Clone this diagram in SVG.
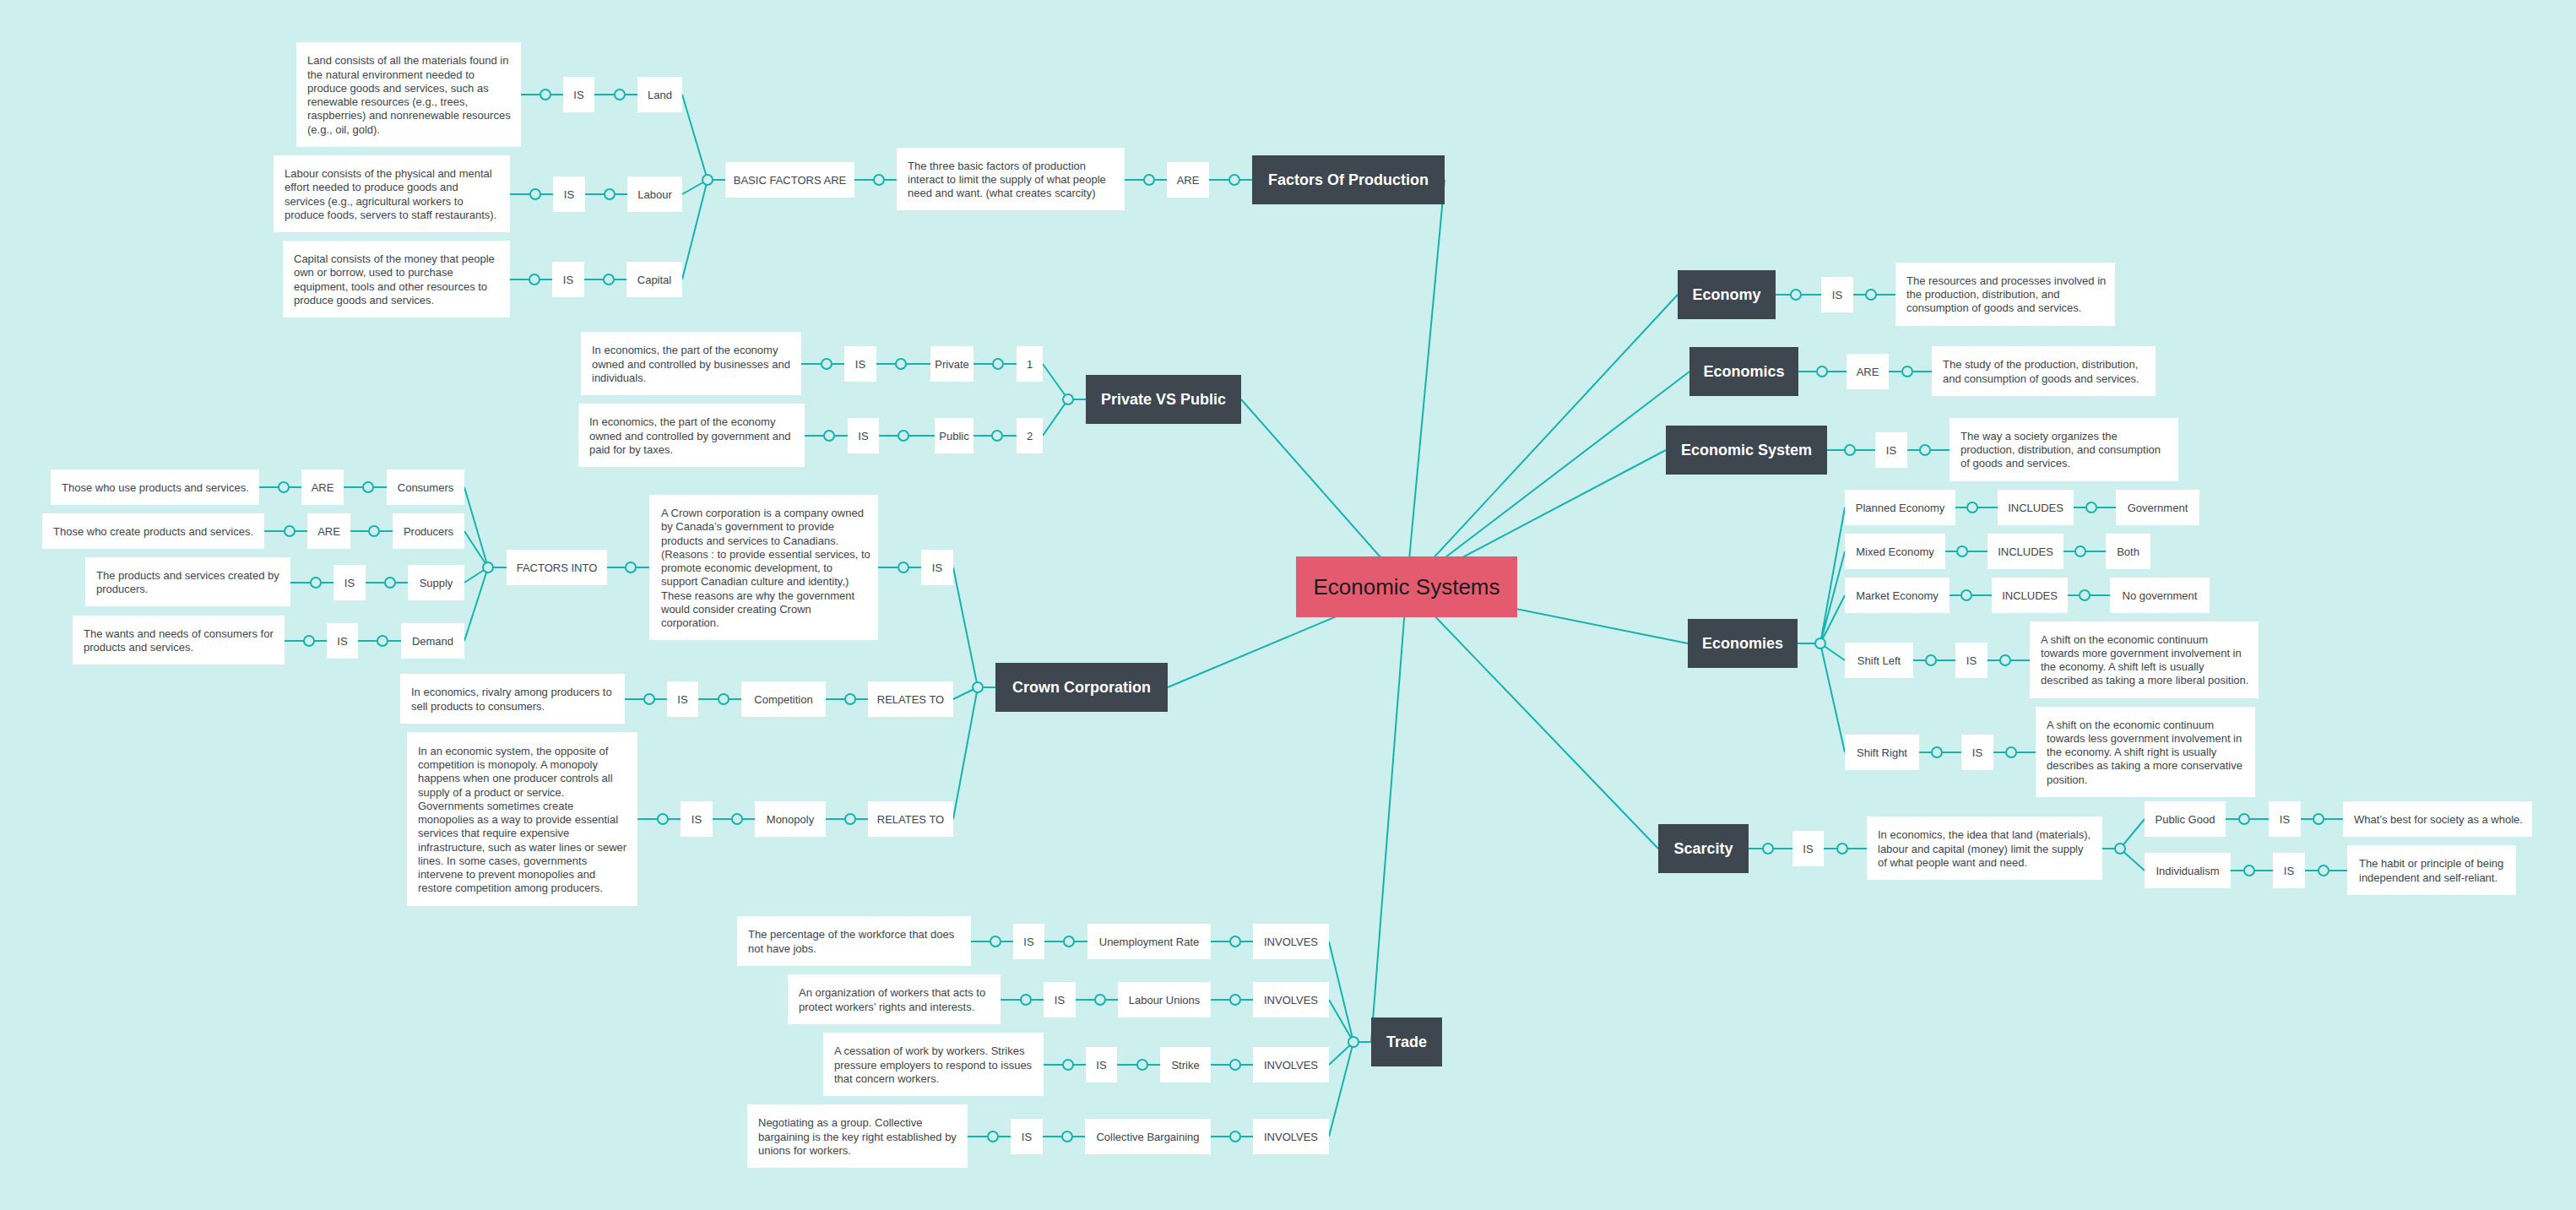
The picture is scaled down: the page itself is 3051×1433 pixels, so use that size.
<svg xmlns="http://www.w3.org/2000/svg" width="3051" height="1433" viewBox="0 0 3051 1433">
<style>
.bg{fill:#cdf0ef}
.w{fill:#ffffff}
.d{fill:#3e464f}
.lb{font-family:"Liberation Sans",Arial,sans-serif;font-size:13px;fill:#40454b;text-anchor:middle;dominant-baseline:central}
.ds{font-family:"Liberation Sans",Arial,sans-serif;font-size:13px;fill:#40454b;dominant-baseline:central}
.h{font-family:"Liberation Sans",Arial,sans-serif;font-size:18px;font-weight:bold;fill:#ffffff;text-anchor:middle;dominant-baseline:central}
.ct{font-family:"Liberation Sans",Arial,sans-serif;font-size:26px;fill:#1c1c1c;text-anchor:middle;dominant-baseline:central}
.l{stroke:#17b2ad;stroke-width:2;fill:none}
.c{fill:#cdf0ef;stroke:#17b2ad;stroke-width:2}
</style>
<rect class="bg" x="0" y="0" width="3051" height="1433"/>

<g id="connectors">
<path class="l" d="M1666 695L1711 213M1666 695L1470 473M1666 695L1383 814M1666 695L1624 1234M1666 695L1987 349M1666 695L2001 440M1666 695L1973 533M1666 695L1999 762M1666 695L1964 1005"/>
<path class="l" d="M1432 213H1483M1332 213H1382M1012 213H1062M838 213H859M838 213L808 112M838 213L808 230M838 213L808 331M704 112H755M617 112H667M693 230H743M604 230H655M692 331H742M604 331H654"/>
<path class="l" d="M1265 473H1286M1265 473L1235 431M1265 473L1235 516M1153 431H1204M1038 431H1102M949 431H1000M1153 516H1204M1041 516H1107M953 516H1004"/>
<path class="l" d="M1158 814H1179M1158 814L1129 672M1158 814L1129 828M1158 814L1129 970M1040 672H1091M719 672H769M578 672H600M578 672L550 577M578 672L550 629M578 672L550 690M578 672L550 759M407 577H458M307 577H357M415 629H465M313 629H364M433 690H483M344 690H395M424 759H475M337 759H387M978 828H1028M827 828H878M740 828H790M978 970H1028M844 970H894M755 970H806"/>
<path class="l" d="M1603 1234H1624M1603 1234L1574 1115M1603 1234L1574 1184M1603 1234L1574 1261M1603 1234L1574 1346M1434 1115H1484M1237 1115H1288M1150 1115H1200M1434 1184H1484M1274 1184H1324M1185 1184H1236M1434 1261H1484M1323 1261H1374M1236 1261H1286M1434 1346H1484M1235 1346H1285M1146 1346H1197"/>
<path class="l" d="M2103 349H2157M2195 349H2245M2130 440H2187M2237 440H2288M2164 533H2221M2259 533H2309M2129 762H2156M2156 762L2185 601M2156 762L2185 653M2156 762L2185 705M2156 762L2185 782M2156 762L2185 891M2316 601H2366M2456 601H2506M2304 653H2354M2444 653H2494M2309 705H2359M2449 705H2499M2266 782H2316M2354 782H2404M2273 891H2323M2361 891H2411M2071 1005H2123M2160 1005H2211M2490 1005H2511M2511 1005L2540 970M2511 1005L2540 1031M2636 970H2687M2725 970H2775M2642 1031H2692M2730 1031H2780"/>
<g>
<circle class="c" cx="1462" cy="213" r="6"/><circle class="c" cx="1361" cy="213" r="6"/><circle class="c" cx="1041" cy="213" r="6"/><circle class="c" cx="838" cy="213" r="6"/>
<circle class="c" cx="734" cy="112" r="6"/><circle class="c" cx="646" cy="112" r="6"/><circle class="c" cx="722" cy="230" r="6"/><circle class="c" cx="634" cy="230" r="6"/><circle class="c" cx="721" cy="331" r="6"/><circle class="c" cx="633" cy="331" r="6"/>
<circle class="c" cx="1265" cy="473" r="6"/><circle class="c" cx="1182" cy="431" r="6"/><circle class="c" cx="1067" cy="431" r="6"/><circle class="c" cx="979" cy="431" r="6"/><circle class="c" cx="1181" cy="516" r="6"/><circle class="c" cx="1070" cy="516" r="6"/><circle class="c" cx="982" cy="516" r="6"/>
<circle class="c" cx="1158" cy="814" r="6"/><circle class="c" cx="1070" cy="672" r="6"/><circle class="c" cx="747" cy="672" r="6"/><circle class="c" cx="578" cy="672" r="6"/>
<circle class="c" cx="436" cy="577" r="6"/><circle class="c" cx="336" cy="577" r="6"/><circle class="c" cx="443" cy="629" r="6"/><circle class="c" cx="343" cy="629" r="6"/><circle class="c" cx="462" cy="690" r="6"/><circle class="c" cx="374" cy="690" r="6"/><circle class="c" cx="453" cy="759" r="6"/><circle class="c" cx="366" cy="759" r="6"/>
<circle class="c" cx="1007" cy="828" r="6"/><circle class="c" cx="857" cy="828" r="6"/><circle class="c" cx="769" cy="828" r="6"/><circle class="c" cx="1007" cy="970" r="6"/><circle class="c" cx="873" cy="970" r="6"/><circle class="c" cx="785" cy="970" r="6"/>
<circle class="c" cx="1603" cy="1234" r="6"/><circle class="c" cx="1463" cy="1115" r="6"/><circle class="c" cx="1266" cy="1115" r="6"/><circle class="c" cx="1179" cy="1115" r="6"/><circle class="c" cx="1463" cy="1184" r="6"/><circle class="c" cx="1303" cy="1184" r="6"/><circle class="c" cx="1215" cy="1184" r="6"/><circle class="c" cx="1463" cy="1261" r="6"/><circle class="c" cx="1353" cy="1261" r="6"/><circle class="c" cx="1265" cy="1261" r="6"/><circle class="c" cx="1463" cy="1346" r="6"/><circle class="c" cx="1264" cy="1346" r="6"/><circle class="c" cx="1176" cy="1346" r="6"/>
<circle class="c" cx="2127" cy="349" r="6"/><circle class="c" cx="2216" cy="349" r="6"/><circle class="c" cx="2158" cy="440" r="6"/><circle class="c" cx="2259" cy="440" r="6"/><circle class="c" cx="2191" cy="533" r="6"/><circle class="c" cx="2280" cy="533" r="6"/>
<circle class="c" cx="2156" cy="762" r="6"/><circle class="c" cx="2336" cy="601" r="6"/><circle class="c" cx="2477" cy="601" r="6"/><circle class="c" cx="2324" cy="653" r="6"/><circle class="c" cx="2464" cy="653" r="6"/><circle class="c" cx="2329" cy="705" r="6"/><circle class="c" cx="2469" cy="705" r="6"/><circle class="c" cx="2287" cy="782" r="6"/><circle class="c" cx="2375" cy="782" r="6"/><circle class="c" cx="2294" cy="891" r="6"/><circle class="c" cx="2382" cy="891" r="6"/>
<circle class="c" cx="2094" cy="1005" r="6"/><circle class="c" cx="2182" cy="1005" r="6"/><circle class="c" cx="2511" cy="1005" r="6"/><circle class="c" cx="2658" cy="970" r="6"/><circle class="c" cx="2746" cy="970" r="6"/><circle class="c" cx="2664" cy="1031" r="6"/><circle class="c" cx="2752" cy="1031" r="6"/>
</g>
</g>

<g id="center"><rect x="1535" y="659" width="262" height="72" fill="#e45b70"/><text class="ct" x="1666" y="695">Economic Systems</text></g>

<g id="factors-of-production"><rect class="d" x="1483" y="184" width="228" height="58"/><text class="h" x="1597" y="213">Factors Of Production</text></g>
<g id="fop-are"><rect class="w" x="1382" y="192" width="50" height="42"/><text class="lb" x="1407" y="213">ARE</text></g>
<g id="fop-desc"><rect class="w" x="1062" y="175" width="270" height="74"/><text class="ds" x="1075" y="195.8"><tspan x="1075">The three basic factors of production</tspan><tspan x="1075" dy="16.25">interact to limit the supply of what people</tspan><tspan x="1075" dy="16.25">need and want. (what creates scarcity)</tspan></text></g>
<g id="basic-factors"><rect class="w" x="859" y="192" width="153" height="42"/><text class="lb" x="935.5" y="213">BASIC FACTORS ARE</text></g>
<g id="land"><rect class="w" x="755" y="91" width="53" height="42"/><text class="lb" x="781.5" y="112">Land</text></g>
<g id="land-is"><rect class="w" x="667" y="91" width="37" height="42"/><text class="lb" x="685.5" y="112">IS</text></g>
<g id="land-desc"><rect class="w" x="351" y="50" width="266" height="124"/><text class="ds" x="364" y="71.4"><tspan x="364">Land consists of all the materials found in</tspan><tspan x="364" dy="16.25">the natural environment needed to</tspan><tspan x="364" dy="16.25">produce goods and services, such as</tspan><tspan x="364" dy="16.25">renewable resources (e.g., trees,</tspan><tspan x="364" dy="16.25">raspberries) and nonrenewable resources</tspan><tspan x="364" dy="16.25">(e.g., oil, gold).</tspan></text></g>
<g id="labour"><rect class="w" x="743" y="209" width="65" height="42"/><text class="lb" x="775.5" y="230">Labour</text></g>
<g id="labour-is"><rect class="w" x="655" y="209" width="38" height="42"/><text class="lb" x="674" y="230">IS</text></g>
<g id="labour-desc"><rect class="w" x="324" y="184" width="280" height="91"/><text class="ds" x="337" y="205.1"><tspan x="337">Labour consists of the physical and mental</tspan><tspan x="337" dy="16.25">effort needed to produce goods and</tspan><tspan x="337" dy="16.25">services (e.g., agricultural workers to</tspan><tspan x="337" dy="16.25">produce foods, servers to staff restaurants).</tspan></text></g>
<g id="capital"><rect class="w" x="742" y="310" width="66" height="42"/><text class="lb" x="775" y="331">Capital</text></g>
<g id="capital-is"><rect class="w" x="654" y="310" width="38" height="42"/><text class="lb" x="673" y="331">IS</text></g>
<g id="capital-desc"><rect class="w" x="335" y="285" width="269" height="91"/><text class="ds" x="348" y="306.1"><tspan x="348">Capital consists of the money that people</tspan><tspan x="348" dy="16.25">own or borrow, used to purchase</tspan><tspan x="348" dy="16.25">equipment, tools and other resources to</tspan><tspan x="348" dy="16.25">produce goods and services.</tspan></text></g>

<g id="private-vs-public"><rect class="d" x="1286" y="444" width="184" height="58"/><text class="h" x="1378" y="473">Private VS Public</text></g>
<g id="n1"><rect class="w" x="1204" y="410" width="31" height="42"/><text class="lb" x="1219.5" y="431">1</text></g>
<g id="private"><rect class="w" x="1102" y="410" width="51" height="42"/><text class="lb" x="1127.5" y="431">Private</text></g>
<g id="private-is"><rect class="w" x="1000" y="410" width="38" height="42"/><text class="lb" x="1019" y="431">IS</text></g>
<g id="private-desc"><rect class="w" x="688" y="393" width="261" height="75"/><text class="ds" x="701" y="414.3"><tspan x="701">In economics, the part of the economy</tspan><tspan x="701" dy="16.25">owned and controlled by businesses and</tspan><tspan x="701" dy="16.25">individuals.</tspan></text></g>
<g id="n2"><rect class="w" x="1204" y="495" width="31" height="42"/><text class="lb" x="1219.5" y="516">2</text></g>
<g id="public"><rect class="w" x="1107" y="495" width="46" height="42"/><text class="lb" x="1130" y="516">Public</text></g>
<g id="public-is"><rect class="w" x="1004" y="495" width="37" height="42"/><text class="lb" x="1022.5" y="516">IS</text></g>
<g id="public-desc"><rect class="w" x="685" y="478" width="268" height="75"/><text class="ds" x="698" y="499.3"><tspan x="698">In economics, the part of the economy</tspan><tspan x="698" dy="16.25">owned and controlled by government and</tspan><tspan x="698" dy="16.25">paid for by taxes.</tspan></text></g>

<g id="crown-corporation"><rect class="d" x="1179" y="785" width="204" height="58"/><text class="h" x="1281" y="814">Crown Corporation</text></g>
<g id="crown-is"><rect class="w" x="1091" y="651" width="38" height="42"/><text class="lb" x="1110" y="672">IS</text></g>
<g id="crown-desc"><rect class="w" x="769" y="586" width="271" height="172"/><text class="ds" x="783" y="607"><tspan x="783">A Crown corporation is a company owned</tspan><tspan x="783" dy="16.25">by Canada’s government to provide</tspan><tspan x="783" dy="16.25">products and services to Canadians.</tspan><tspan x="783" dy="16.25">(Reasons : to provide essential services, to</tspan><tspan x="783" dy="16.25">promote economic development, to</tspan><tspan x="783" dy="16.25">support Canadian culture and identity,)</tspan><tspan x="783" dy="16.25">These reasons are why the government</tspan><tspan x="783" dy="16.25">would consider creating Crown</tspan><tspan x="783" dy="16.25">corporation.</tspan></text></g>
<g id="factors-into"><rect class="w" x="600" y="651" width="119" height="42"/><text class="lb" x="659.5" y="672">FACTORS INTO</text></g>
<g id="consumers"><rect class="w" x="458" y="556" width="92" height="42"/><text class="lb" x="504" y="577">Consumers</text></g>
<g id="consumers-are"><rect class="w" x="357" y="556" width="50" height="42"/><text class="lb" x="382" y="577">ARE</text></g>
<g id="consumers-desc"><rect class="w" x="60" y="556" width="247" height="42"/><text class="ds" x="73" y="577">Those who use products and services.</text></g>
<g id="producers"><rect class="w" x="465" y="608" width="85" height="42"/><text class="lb" x="507.5" y="629">Producers</text></g>
<g id="producers-are"><rect class="w" x="364" y="608" width="51" height="42"/><text class="lb" x="389.5" y="629">ARE</text></g>
<g id="producers-desc"><rect class="w" x="50" y="608" width="263" height="42"/><text class="ds" x="63" y="629">Those who create products and services.</text></g>
<g id="supply"><rect class="w" x="483" y="669" width="67" height="42"/><text class="lb" x="516.5" y="690">Supply</text></g>
<g id="supply-is"><rect class="w" x="395" y="669" width="38" height="42"/><text class="lb" x="414" y="690">IS</text></g>
<g id="supply-desc"><rect class="w" x="101" y="660" width="243" height="58"/><text class="ds" x="114" y="680.9"><tspan x="114">The products and services created by</tspan><tspan x="114" dy="16.25">producers.</tspan></text></g>
<g id="demand"><rect class="w" x="475" y="738" width="75" height="42"/><text class="lb" x="512.5" y="759">Demand</text></g>
<g id="demand-is"><rect class="w" x="387" y="738" width="37" height="42"/><text class="lb" x="405.5" y="759">IS</text></g>
<g id="demand-desc"><rect class="w" x="86" y="729" width="251" height="58"/><text class="ds" x="99" y="749.9"><tspan x="99">The wants and needs of consumers for</tspan><tspan x="99" dy="16.25">products and services.</tspan></text></g>
<g id="relates-to-1"><rect class="w" x="1028" y="807" width="101" height="42"/><text class="lb" x="1078.5" y="828">RELATES TO</text></g>
<g id="competition"><rect class="w" x="878" y="807" width="100" height="42"/><text class="lb" x="928" y="828">Competition</text></g>
<g id="competition-is"><rect class="w" x="790" y="807" width="37" height="42"/><text class="lb" x="808.5" y="828">IS</text></g>
<g id="competition-desc"><rect class="w" x="474" y="798" width="266" height="59"/><text class="ds" x="487" y="819.4"><tspan x="487">In economics, rivalry among producers to</tspan><tspan x="487" dy="16.25">sell products to consumers.</tspan></text></g>
<g id="relates-to-2"><rect class="w" x="1028" y="949" width="101" height="42"/><text class="lb" x="1078.5" y="970">RELATES TO</text></g>
<g id="monopoly"><rect class="w" x="894" y="949" width="84" height="42"/><text class="lb" x="936" y="970">Monopoly</text></g>
<g id="monopoly-is"><rect class="w" x="806" y="949" width="38" height="42"/><text class="lb" x="825" y="970">IS</text></g>
<g id="monopoly-desc"><rect class="w" x="482" y="867" width="273" height="206"/><text class="ds" x="495" y="888.8"><tspan x="495">In an economic system, the opposite of</tspan><tspan x="495" dy="16.25">competition is monopoly. A monopoly</tspan><tspan x="495" dy="16.25">happens when one producer controls all</tspan><tspan x="495" dy="16.25">supply of a product or service.</tspan><tspan x="495" dy="16.25">Governments sometimes create</tspan><tspan x="495" dy="16.25">monopolies as a way to provide essential</tspan><tspan x="495" dy="16.25">services that require expensive</tspan><tspan x="495" dy="16.25">infrastructure, such as water lines or sewer</tspan><tspan x="495" dy="16.25">lines. In some cases, governments</tspan><tspan x="495" dy="16.25">intervene to prevent monopolies and</tspan><tspan x="495" dy="16.25">restore competition among producers.</tspan></text></g>

<g id="trade"><rect class="d" x="1624" y="1205" width="84" height="58"/><text class="h" x="1666" y="1234">Trade</text></g>
<g id="involves-1"><rect class="w" x="1484" y="1094" width="90" height="42"/><text class="lb" x="1529" y="1115">INVOLVES</text></g>
<g id="unemployment"><rect class="w" x="1288" y="1094" width="146" height="42"/><text class="lb" x="1361" y="1115">Unemployment Rate</text></g>
<g id="unemployment-is"><rect class="w" x="1200" y="1094" width="37" height="42"/><text class="lb" x="1218.5" y="1115">IS</text></g>
<g id="unemployment-desc"><rect class="w" x="873" y="1085" width="277" height="59"/><text class="ds" x="886" y="1106.4"><tspan x="886">The percentage of the workforce that does</tspan><tspan x="886" dy="16.25">not have jobs.</tspan></text></g>
<g id="involves-2"><rect class="w" x="1484" y="1163" width="90" height="42"/><text class="lb" x="1529" y="1184">INVOLVES</text></g>
<g id="labour-unions"><rect class="w" x="1324" y="1163" width="110" height="42"/><text class="lb" x="1379" y="1184">Labour Unions</text></g>
<g id="unions-is"><rect class="w" x="1236" y="1163" width="38" height="42"/><text class="lb" x="1255" y="1184">IS</text></g>
<g id="unions-desc"><rect class="w" x="933" y="1154" width="252" height="59"/><text class="ds" x="946" y="1175.4"><tspan x="946">An organization of workers that acts to</tspan><tspan x="946" dy="16.25">protect workers’ rights and interests.</tspan></text></g>
<g id="involves-3"><rect class="w" x="1484" y="1240" width="90" height="42"/><text class="lb" x="1529" y="1261">INVOLVES</text></g>
<g id="strike"><rect class="w" x="1374" y="1240" width="60" height="42"/><text class="lb" x="1404" y="1261">Strike</text></g>
<g id="strike-is"><rect class="w" x="1286" y="1240" width="37" height="42"/><text class="lb" x="1304.5" y="1261">IS</text></g>
<g id="strike-desc"><rect class="w" x="975" y="1223" width="261" height="75"/><text class="ds" x="988" y="1244.3"><tspan x="988">A cessation of work by workers. Strikes</tspan><tspan x="988" dy="16.25">pressure employers to respond to issues</tspan><tspan x="988" dy="16.25">that concern workers.</tspan></text></g>
<g id="involves-4"><rect class="w" x="1484" y="1325" width="90" height="42"/><text class="lb" x="1529" y="1346">INVOLVES</text></g>
<g id="collective-bargaining"><rect class="w" x="1285" y="1325" width="149" height="42"/><text class="lb" x="1359.5" y="1346">Collective Bargaining</text></g>
<g id="collective-is"><rect class="w" x="1197" y="1325" width="38" height="42"/><text class="lb" x="1216" y="1346">IS</text></g>
<g id="collective-desc"><rect class="w" x="885" y="1308" width="261" height="75"/><text class="ds" x="898" y="1329.3"><tspan x="898">Negotiating as a group. Collective</tspan><tspan x="898" dy="16.25">bargaining is the key right established by</tspan><tspan x="898" dy="16.25">unions for workers.</tspan></text></g>

<g id="economy"><rect class="d" x="1987" y="320" width="116" height="58"/><text class="h" x="2045" y="349">Economy</text></g>
<g id="economy-is"><rect class="w" x="2157" y="328" width="38" height="42"/><text class="lb" x="2176" y="349">IS</text></g>
<g id="economy-desc"><rect class="w" x="2245" y="311" width="260" height="75"/><text class="ds" x="2258" y="331.8"><tspan x="2258">The resources and processes involved in</tspan><tspan x="2258" dy="16.25">the production, distribution, and</tspan><tspan x="2258" dy="16.25">consumption of goods and services.</tspan></text></g>
<g id="economics"><rect class="d" x="2001" y="411" width="129" height="58"/><text class="h" x="2065.5" y="440">Economics</text></g>
<g id="economics-are"><rect class="w" x="2187" y="419" width="50" height="42"/><text class="lb" x="2212" y="440">ARE</text></g>
<g id="economics-desc"><rect class="w" x="2288" y="410" width="265" height="59"/><text class="ds" x="2301" y="431.4"><tspan x="2301">The study of the production, distribution,</tspan><tspan x="2301" dy="16.25">and consumption of goods and services.</tspan></text></g>
<g id="economic-system"><rect class="d" x="1973" y="504" width="191" height="58"/><text class="h" x="2068.5" y="533">Economic System</text></g>
<g id="economic-system-is"><rect class="w" x="2221" y="512" width="38" height="42"/><text class="lb" x="2240" y="533">IS</text></g>
<g id="economic-system-desc"><rect class="w" x="2309" y="495" width="271" height="75"/><text class="ds" x="2322" y="515.8"><tspan x="2322">The way a society organizes the</tspan><tspan x="2322" dy="16.25">production, distribution, and consumption</tspan><tspan x="2322" dy="16.25">of goods and services.</tspan></text></g>

<g id="economies"><rect class="d" x="1999" y="733" width="130" height="58"/><text class="h" x="2064" y="762">Economies</text></g>
<g id="planned-economy"><rect class="w" x="2185" y="580" width="131" height="42"/><text class="lb" x="2250.5" y="601">Planned Economy</text></g>
<g id="includes-1"><rect class="w" x="2366" y="580" width="90" height="42"/><text class="lb" x="2411" y="601">INCLUDES</text></g>
<g id="government"><rect class="w" x="2506" y="580" width="99" height="42"/><text class="lb" x="2555.5" y="601">Government</text></g>
<g id="mixed-economy"><rect class="w" x="2185" y="632" width="119" height="42"/><text class="lb" x="2244.5" y="653">Mixed Economy</text></g>
<g id="includes-2"><rect class="w" x="2354" y="632" width="90" height="42"/><text class="lb" x="2399" y="653">INCLUDES</text></g>
<g id="both"><rect class="w" x="2494" y="632" width="53" height="42"/><text class="lb" x="2520.5" y="653">Both</text></g>
<g id="market-economy"><rect class="w" x="2185" y="684" width="124" height="42"/><text class="lb" x="2247" y="705">Market Economy</text></g>
<g id="includes-3"><rect class="w" x="2359" y="684" width="90" height="42"/><text class="lb" x="2404" y="705">INCLUDES</text></g>
<g id="no-government"><rect class="w" x="2499" y="684" width="118" height="42"/><text class="lb" x="2558" y="705">No government</text></g>
<g id="shift-left"><rect class="w" x="2185" y="761" width="81" height="42"/><text class="lb" x="2225.5" y="782">Shift Left</text></g>
<g id="shift-left-is"><rect class="w" x="2316" y="761" width="38" height="42"/><text class="lb" x="2335" y="782">IS</text></g>
<g id="shift-left-desc"><rect class="w" x="2404" y="736" width="271" height="91"/><text class="ds" x="2417" y="756.6"><tspan x="2417">A shift on the economic continuum</tspan><tspan x="2417" dy="16.25">towards more government involvement in</tspan><tspan x="2417" dy="16.25">the economy. A shift left is usually</tspan><tspan x="2417" dy="16.25">described as taking a more liberal position.</tspan></text></g>
<g id="shift-right"><rect class="w" x="2185" y="870" width="88" height="42"/><text class="lb" x="2229" y="891">Shift Right</text></g>
<g id="shift-right-is"><rect class="w" x="2323" y="870" width="38" height="42"/><text class="lb" x="2342" y="891">IS</text></g>
<g id="shift-right-desc"><rect class="w" x="2411" y="837" width="260" height="107"/><text class="ds" x="2424" y="857.5"><tspan x="2424">A shift on the economic continuum</tspan><tspan x="2424" dy="16.25">towards less government involvement in</tspan><tspan x="2424" dy="16.25">the economy. A shift right is usually</tspan><tspan x="2424" dy="16.25">describes as taking a more conservative</tspan><tspan x="2424" dy="16.25">position.</tspan></text></g>

<g id="scarcity"><rect class="d" x="1964" y="976" width="107" height="58"/><text class="h" x="2017.5" y="1005">Scarcity</text></g>
<g id="scarcity-is"><rect class="w" x="2123" y="984" width="37" height="42"/><text class="lb" x="2141.5" y="1005">IS</text></g>
<g id="scarcity-desc"><rect class="w" x="2211" y="967" width="279" height="75"/><text class="ds" x="2224" y="988.3"><tspan x="2224">In economics, the idea that land (materials),</tspan><tspan x="2224" dy="16.25">labour and capital (money) limit the supply</tspan><tspan x="2224" dy="16.25">of what people want and need.</tspan></text></g>
<g id="public-good"><rect class="w" x="2540" y="949" width="96" height="42"/><text class="lb" x="2588" y="970">Public Good</text></g>
<g id="public-good-is"><rect class="w" x="2687" y="949" width="38" height="42"/><text class="lb" x="2706" y="970">IS</text></g>
<g id="public-good-desc"><rect class="w" x="2775" y="949" width="224" height="42"/><text class="ds" x="2788" y="970">What’s best for society as a whole.</text></g>
<g id="individualism"><rect class="w" x="2540" y="1010" width="102" height="42"/><text class="lb" x="2591" y="1031">Individualism</text></g>
<g id="individualism-is"><rect class="w" x="2692" y="1010" width="38" height="42"/><text class="lb" x="2711" y="1031">IS</text></g>
<g id="individualism-desc"><rect class="w" x="2780" y="1001" width="200" height="59"/><text class="ds" x="2794" y="1022.4"><tspan x="2794">The habit or principle of being</tspan><tspan x="2794" dy="16.25">independent and self-reliant.</tspan></text></g>
</svg>
